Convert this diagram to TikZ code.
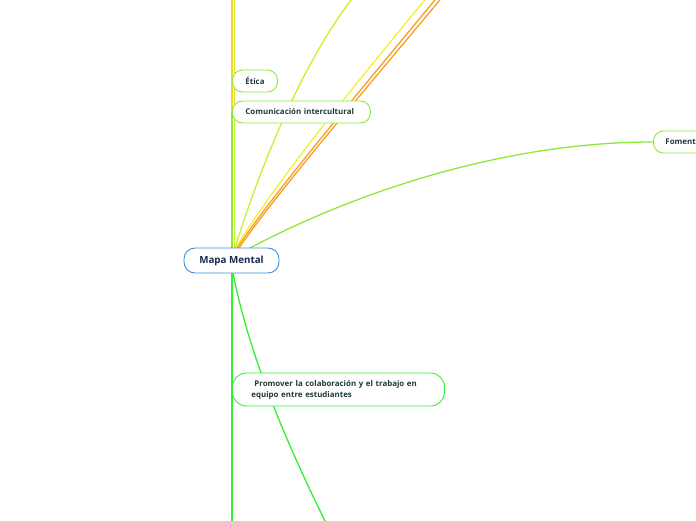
\documentclass[tikz,border=0pt]{standalone}
\usepackage{fontspec}
\setmainfont{Open Sans}
\definecolor{lgreen}{HTML}{8CE83C}
\definecolor{bgreen}{HTML}{33F033}
\definecolor{ygreen}{HTML}{C8F030}
\definecolor{yell}{HTML}{F5F032}
\definecolor{gold}{HTML}{F8D428}
\definecolor{orng}{HTML}{F5A020}
\definecolor{txt}{HTML}{1E3A3A}
\definecolor{navy}{HTML}{1B2A52}
\definecolor{cblue}{HTML}{3A8ED8}
\tikzset{
  child/.style={draw=lgreen, line width=0.9pt, rounded corners=10pt, fill=white, font=\bfseries\fontsize{7.9}{11}\selectfont, text=txt, anchor=west, inner xsep=13pt, inner ysep=0pt, minimum height=22pt, align=left},
  link/.style={line width=1.3pt},
}
\begin{document}
\begin{tikzpicture}[x=1pt,y=-1pt]
\useasboundingbox (0,0) rectangle (696,520);
% free ends
\coordinate (t1) at (232,-5);
\coordinate (t2) at (234.5,-5);
\coordinate (t3) at (355,-5);
\coordinate (t4) at (429,-5);
\coordinate (t5) at (439,-5);
\coordinate (t6) at (444,-5);
\coordinate (b1) at (232,525);
\coordinate (b2) at (327,525);
\coordinate (c) at (232,248);
\coordinate (cb) at (232,273);
% connectors
\draw[link, draw=ygreen] (234.5,248) -- (t2);
\draw[link, draw=gold] (232,248) -- (t1);
\draw[link, draw=lgreen] (c) -- (232,112);
\draw[link, draw=ygreen] (235,248) .. controls (259,170) and (303,60) .. (t3);
\draw[link, draw=yell] (236,248) .. controls (270,190) and (350,90) .. (t4);
\draw[link, draw=orng] (237,248) .. controls (276,190) and (361,90) .. (t5);
\draw[link, draw=orng] (239,248) .. controls (279,190) and (365,90) .. (t6);
\draw[link, draw=lgreen] (250,248) .. controls (350,195) and (500,142) .. (653,142);
\draw[link, draw=bgreen] (cb) -- (b1);
\draw[link, draw=bgreen] (233,273) .. controls (250,360) and (290,450) .. (b2);
% nodes
\node[child, text width=19pt] (etica) at (232,81) {Ética};
\node[child, text width=112pt] (com) at (232,112) {Comunicación intercultural};
\node[child, text width=40pt, inner xsep=12pt] (fom) at (653,142) {Foment};
\node[child, draw=bgreen, text width=174pt, inner xsep=19pt, minimum height=33pt, rounded corners=14pt] (prom) at (232,389.5) {\hspace{3pt}Promover la colaboración y el trabajo en\\equipo entre estudiantes};
\node[draw=cblue, line width=0.9pt, rounded corners=11pt, fill=white, minimum width=95pt, minimum height=25pt, font=\bfseries\fontsize{9.8}{11}\selectfont, text=navy, inner sep=0pt] (mapa) at (231.5,260.5) {Mapa Mental};
\end{tikzpicture}
\end{document}
